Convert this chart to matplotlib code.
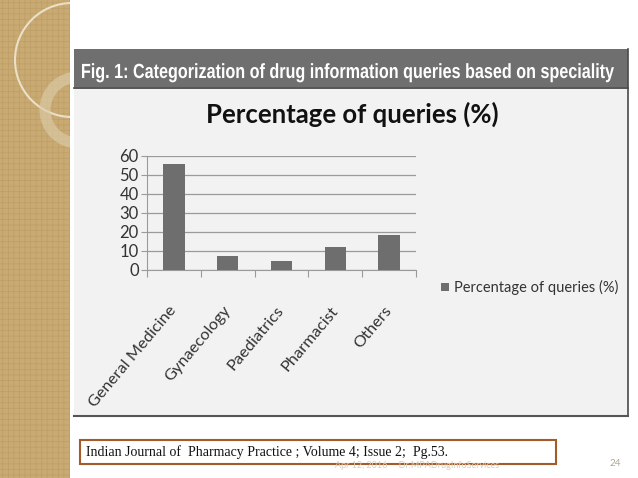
import matplotlib.pyplot as plt
from matplotlib.patches import Rectangle, Circle, PathPatch
from matplotlib.textpath import TextPath
from matplotlib.font_manager import FontProperties
from matplotlib.transforms import Affine2D
import numpy as np

categories = ['General Medicine', 'Gynaecology', 'Paediatrics', 'Pharmacist', 'Others']
percentages = [56, 7, 4.5, 11.7, 18.5]
series_name = 'Percentage of queries (%)'
yticks = [0, 10, 20, 30, 40, 50, 60]
header = 'Fig. 1: Categorization of drug information queries based on speciality'

fig = plt.figure(figsize=(6.38, 4.78), dpi=100)
fig.patch.set_facecolor('white')

# background layer in pixel coordinates
bg = fig.add_axes([0, 0, 1, 1])
bg.set_xlim(0, 638)
bg.set_ylim(478, 0)
bg.axis('off')

# burlap side strip with faint rings, white slide covers the overflow
plt.rcParams['hatch.linewidth'] = 0.5
bg.add_patch(Rectangle((0, 0), 70, 478, facecolor='#c9aa73', edgecolor='#bd9e66',
                       hatch='+++', lw=0, zorder=0))
bg.add_patch(Circle((72, 60), 57, facecolor='none', edgecolor='#efe6d2', lw=1.5, alpha=0.9, zorder=0.5))
bg.add_patch(Circle((78, 110), 33, facecolor='none', edgecolor='#dccca8', lw=8, alpha=0.65, zorder=0.5))
bg.add_patch(Rectangle((70, 0), 568, 478, facecolor='white', edgecolor='none', zorder=0.8))

# figure header bar and panel
bg.add_patch(Rectangle((74, 49), 554, 38, facecolor='#6f6f6f', edgecolor='none'))
bg.add_patch(Rectangle((74, 87), 554, 329, facecolor='#f2f2f2', edgecolor='none'))
bg.plot([74, 628], [87.5, 87.5], color='#3a3a3a', lw=1.2)
bg.plot([627.5, 627.5], [49, 416], color='#4a4a4a', lw=1.2)
bg.plot([74, 628], [415.5, 415.5], color='#555555', lw=1.5)

# condensed bold header text
tp = TextPath((0, 0), header, size=10, prop=FontProperties(family='Liberation Sans', weight='bold'))
ext = tp.get_extents()
sx = 532 / ext.width
sy = 2.05
tr = Affine2D().translate(-ext.x0, 0).scale(sx, -sy).translate(82, 78)
bg.add_patch(PathPatch(tr.transform_path(tp), facecolor='white', edgecolor='none'))

bg.text(352, 114, 'Percentage of queries (%)', fontsize=18.5, fontweight='bold',
        family='Lato', ha='center', va='center', color='#111111')

# legend
bg.add_patch(Rectangle((441, 283), 8, 8, facecolor='#6e6e6e', edgecolor='none'))
bg.text(454, 287, series_name, fontsize=10.5, family='Lato', va='center', color='#333333')

# reference box
bg.add_patch(Rectangle((80, 440), 476, 24, facecolor='white', edgecolor='#a55a2a', lw=1.5))
bg.text(86, 452, 'Indian Journal of  Pharmacy Practice ; Volume 4; Issue 2;  Pg.53.',
        fontsize=10, family='Liberation Serif', va='center', color='#111111')
bg.text(335, 466, 'Apr 12, 2016     Dr.MPADrugInfoServices', fontsize=6.5,
        family='Lato', color='#d9cfb8', va='center')
bg.text(610, 463, '24', fontsize=7, family='Lato', color='#b0a890', va='center')

# the chart itself
ax = fig.add_axes([147 / 638, 1 - 269.5 / 478, 269 / 638, 113.5 / 478])
ax.set_facecolor('none')
x = np.arange(len(categories))
ax.bar(x, percentages, width=0.4, color='#6e6e6e', zorder=3)
ax.set_xlim(-0.5, len(categories) - 0.5)
ax.set_ylim(0, 60)
ax.set_yticks(yticks)
ax.yaxis.grid(True, color='#9a9a9a', lw=0.9, zorder=0)
for s in ['top', 'right']:
    ax.spines[s].set_visible(False)
ax.spines['left'].set_color('#9a9a9a')
ax.spines['bottom'].set_color('#9a9a9a')
ax.tick_params(axis='y', length=4, color='#9a9a9a', labelsize=12, labelcolor='#333333', pad=2)
ax.set_xticks(np.arange(len(categories) + 1) - 0.5)
ax.set_xticklabels([])
ax.tick_params(axis='x', length=5, color='#9a9a9a', direction='out')
for lab in ax.get_yticklabels():
    lab.set_family('Lato')
for i, c in enumerate(categories):
    ax.text(i - 0.1, -18, c, rotation=50, ha='right', va='top', rotation_mode='anchor',
            fontsize=11.8, family='Lato', color='#333333', clip_on=False)

fig.savefig('out.png', dpi=100, facecolor=fig.get_facecolor())
